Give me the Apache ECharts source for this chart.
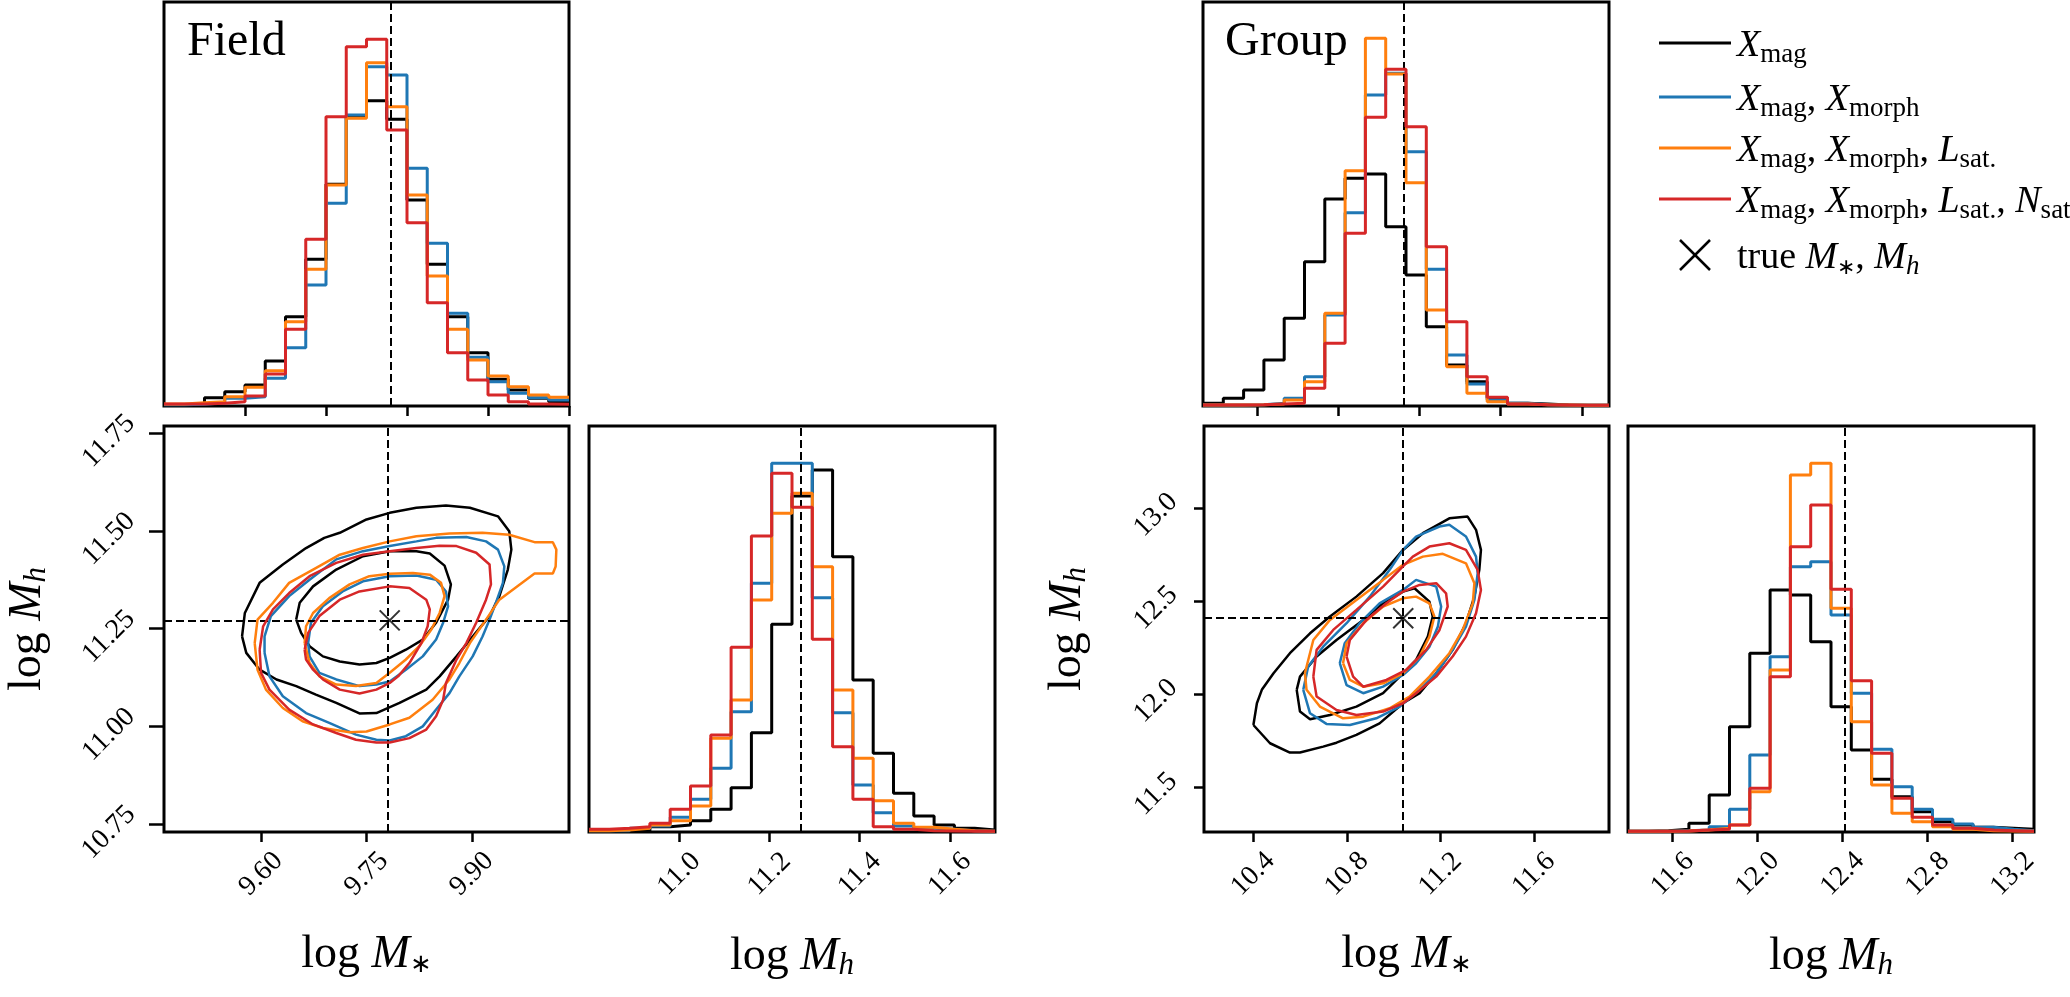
<!DOCTYPE html>
<html><head><meta charset="utf-8">
<script src="https://cdn.jsdelivr.net/npm/echarts@6/dist/echarts.min.js"></script>
<style>html,body{margin:0;padding:0;background:#fff}#c{width:2070px;height:997px}</style>
</head><body><div id="c"></div>
<script>
const FONT = 'Liberation Serif';
const seriesNames = ['X_mag', 'X_mag, X_morph', 'X_mag, X_morph, L_sat.', 'X_mag, X_morph, L_sat., N_sat'];
const seriesColors = ['#000000', '#1f77b4', '#ff7f0e', '#d62728'];

// ---------- Field ----------
const fieldTruth = [9.783, 11.271];
const fieldMstarBinStart = 9.5, fieldMstarBinWidth = 0.025;
const fieldMstarBlack  = [4, 6, 25, 43, 63, 135, 268, 440, 665, 868, 916, 860, 618, 425, 268, 160, 80, 48, 23, 13];
const fieldMstarBlue   = [4, 5, 10, 23, 28, 83, 175, 363, 608, 873, 1018, 993, 713, 488, 278, 146, 73, 38, 25, 18];
const fieldMstarOrange = [6, 10, 13, 28, 56, 106, 253, 410, 663, 863, 1030, 898, 633, 390, 230, 138, 90, 58, 33, 26];
const fieldMstarRed    = [6, 6, 8, 13, 30, 96, 230, 500, 868, 1078, 1100, 828, 550, 310, 160, 78, 33, 13, 6, 5];

const fieldMhBinStart = 10.8, fieldMhBinWidth = 0.045;
const fieldMhBlack  = [2, 2, 4, 16, 21, 34, 68, 133, 298, 623, 1008, 1086, 826, 456, 236, 116, 48, 21, 11, 6];
const fieldMhBlue   = [4, 4, 11, 18, 44, 98, 191, 361, 746, 1106, 1106, 703, 358, 141, 58, 18, 11, 8, 4, 2];
const fieldMhOrange = [4, 6, 11, 21, 34, 78, 281, 396, 696, 956, 1016, 796, 426, 221, 94, 26, 14, 8, 4, 2];
const fieldMhRed    = [8, 11, 16, 26, 68, 138, 291, 554, 888, 1076, 974, 578, 256, 98, 16, 8, 4, 3, 2, 2];

const fieldBlackOuter = [[9.573,11.230],[9.577,11.290],[9.598,11.367],[9.631,11.414],[9.664,11.456],[9.690,11.482],[9.712,11.495],[9.750,11.529],[9.783,11.546],[9.821,11.559],[9.863,11.565],[9.897,11.559],[9.937,11.537],[9.953,11.499],[9.956,11.452],[9.951,11.401],[9.939,11.333],[9.925,11.282],[9.901,11.230],[9.878,11.179],[9.854,11.128],[9.835,11.094],[9.797,11.060],[9.764,11.034],[9.740,11.033],[9.707,11.060],[9.678,11.081],[9.650,11.103],[9.622,11.120],[9.598,11.145],[9.579,11.188],[9.573,11.230]];
const fieldBlackInner = [[9.650,11.273],[9.655,11.316],[9.674,11.358],[9.707,11.401],[9.745,11.435],[9.783,11.448],[9.821,11.448],[9.840,11.442],[9.861,11.411],[9.870,11.363],[9.866,11.324],[9.849,11.265],[9.830,11.222],[9.806,11.196],[9.783,11.175],[9.764,11.162],[9.740,11.158],[9.712,11.166],[9.688,11.179],[9.669,11.205],[9.657,11.239],[9.650,11.273]];
const fieldBlueOuter = [[9.605,11.188],[9.605,11.230],[9.614,11.282],[9.640,11.333],[9.669,11.375],[9.707,11.427],[9.745,11.448],[9.783,11.461],[9.821,11.473],[9.849,11.482],[9.892,11.484],[9.920,11.473],[9.937,11.452],[9.946,11.409],[9.944,11.367],[9.934,11.316],[9.925,11.273],[9.915,11.230],[9.901,11.179],[9.882,11.128],[9.868,11.085],[9.849,11.043],[9.830,11.000],[9.806,10.975],[9.783,10.964],[9.764,10.966],[9.735,10.979],[9.697,11.009],[9.664,11.034],[9.631,11.077],[9.612,11.128],[9.605,11.188]];
const fieldBlueInner = [[9.667,11.213],[9.671,11.265],[9.688,11.307],[9.716,11.345],[9.745,11.371],[9.783,11.384],[9.821,11.386],[9.849,11.375],[9.863,11.345],[9.866,11.307],[9.859,11.265],[9.849,11.222],[9.830,11.179],[9.806,11.145],[9.783,11.115],[9.764,11.107],[9.740,11.103],[9.707,11.120],[9.683,11.137],[9.669,11.179],[9.667,11.213]];
const fieldOrangeOuter = [[9.591,11.213],[9.595,11.273],[9.617,11.316],[9.640,11.367],[9.674,11.401],[9.712,11.439],[9.745,11.456],[9.783,11.473],[9.821,11.486],[9.868,11.493],[9.915,11.495],[9.953,11.490],[9.989,11.471],[10.015,11.471],[10.020,11.452],[10.019,11.409],[10.015,11.391],[9.989,11.391],[9.968,11.363],[9.939,11.324],[9.920,11.273],[9.897,11.213],[9.882,11.162],[9.868,11.120],[9.844,11.068],[9.811,11.022],[9.783,11.005],[9.750,10.987],[9.726,10.985],[9.688,10.996],[9.659,11.013],[9.631,11.047],[9.607,11.094],[9.595,11.145],[9.591,11.213]];
const fieldOrangeInner = [[9.662,11.213],[9.664,11.256],[9.674,11.290],[9.697,11.328],[9.726,11.363],[9.754,11.384],[9.783,11.390],[9.816,11.392],[9.840,11.388],[9.856,11.367],[9.861,11.333],[9.854,11.290],[9.842,11.247],[9.825,11.205],[9.806,11.171],[9.783,11.137],[9.764,11.111],[9.735,11.103],[9.707,11.107],[9.683,11.128],[9.669,11.162],[9.662,11.213]];
const fieldRedOuter = [[9.598,11.196],[9.603,11.256],[9.617,11.299],[9.640,11.341],[9.669,11.384],[9.707,11.418],[9.745,11.439],[9.783,11.448],[9.821,11.456],[9.854,11.462],[9.878,11.461],[9.906,11.444],[9.925,11.414],[9.927,11.363],[9.920,11.324],[9.906,11.265],[9.892,11.213],[9.878,11.171],[9.863,11.111],[9.859,11.068],[9.849,11.026],[9.835,10.992],[9.811,10.970],[9.783,10.959],[9.764,10.959],[9.735,10.966],[9.707,10.983],[9.674,11.005],[9.640,11.043],[9.612,11.094],[9.600,11.137],[9.598,11.196]];
const fieldRedInner = [[9.662,11.196],[9.667,11.239],[9.683,11.282],[9.712,11.324],[9.740,11.345],[9.783,11.358],[9.811,11.354],[9.835,11.324],[9.840,11.299],[9.837,11.256],[9.828,11.213],[9.811,11.162],[9.795,11.128],[9.783,11.111],[9.764,11.094],[9.740,11.084],[9.712,11.094],[9.688,11.120],[9.674,11.145],[9.664,11.171],[9.662,11.196]];

// ---------- Group ----------
const groupTruth = [11.041, 12.407];
const groupMstarBinStart = 10.3, groupMstarBinWidth = 0.075;
const groupMstarBlack  = [8, 23, 48, 138, 263, 433, 621, 683, 696, 538, 393, 238, 123, 73, 23, 8, 6, 3, 2, 2];
const groupMstarBlue   = [3, 3, 4, 8, 23, 88, 273, 580, 933, 998, 763, 410, 153, 66, 18, 8, 4, 3, 2, 2];
const groupMstarOrange = [3, 3, 4, 6, 18, 73, 278, 706, 1103, 996, 670, 288, 118, 38, 13, 6, 4, 3, 2, 2];
const groupMstarRed    = [3, 3, 4, 6, 8, 53, 188, 518, 866, 1010, 838, 478, 253, 88, 26, 6, 4, 3, 2, 2];

const groupMhBinStart = 11.39, groupMhBinWidth = 0.0955;
const groupMhBlack  = [2, 4, 8, 26, 111, 316, 536, 726, 711, 571, 376, 246, 158, 106, 61, 31, 21, 14, 11, 8];
const groupMhBlue   = [2, 2, 4, 6, 16, 68, 231, 526, 796, 811, 651, 416, 248, 136, 68, 38, 24, 14, 8, 4];
const groupMhOrange = [2, 2, 3, 6, 11, 21, 121, 486, 1071, 1106, 671, 331, 141, 56, 31, 16, 8, 4, 3, 2];
const groupMhRed    = [2, 2, 3, 6, 8, 21, 131, 466, 856, 981, 728, 454, 236, 101, 44, 21, 11, 6, 4, 2];

const groupBlackOuter = [[10.401,11.833],[10.416,11.950],[10.437,12.022],[10.487,12.111],[10.557,12.219],[10.643,12.326],[10.728,12.416],[10.841,12.523],[10.955,12.649],[11.040,12.774],[11.125,12.864],[11.238,12.944],[11.316,12.953],[11.352,12.882],[11.373,12.774],[11.366,12.667],[11.345,12.523],[11.309,12.380],[11.252,12.237],[11.182,12.111],[11.111,12.004],[11.040,11.950],[10.940,11.842],[10.841,11.780],[10.756,11.738],[10.699,11.717],[10.600,11.685],[10.557,11.685],[10.472,11.735],[10.401,11.833]];
const groupBlackInner = [[10.586,12.022],[10.600,12.093],[10.671,12.201],[10.756,12.290],[10.870,12.398],[10.955,12.487],[11.040,12.550],[11.089,12.568],[11.153,12.496],[11.167,12.416],[11.146,12.308],[11.096,12.183],[11.040,12.111],[10.955,12.004],[10.841,11.932],[10.728,11.887],[10.643,11.864],[10.600,11.905],[10.586,12.022]];
const groupBlueOuter = [[10.614,12.022],[10.635,12.147],[10.699,12.254],[10.799,12.380],[10.898,12.523],[10.983,12.667],[11.040,12.774],[11.096,12.846],[11.196,12.900],[11.238,12.909],[11.309,12.846],[11.352,12.738],[11.359,12.649],[11.345,12.505],[11.309,12.362],[11.252,12.237],[11.182,12.111],[11.111,12.022],[11.026,11.932],[10.926,11.869],[10.813,11.833],[10.713,11.839],[10.643,11.896],[10.614,12.022]];
const groupBlueInner = [[10.770,12.165],[10.791,12.272],[10.855,12.380],[10.940,12.487],[11.040,12.559],[11.096,12.613],[11.182,12.577],[11.203,12.470],[11.189,12.362],[11.153,12.254],[11.096,12.165],[11.040,12.102],[10.955,12.039],[10.870,12.004],[10.799,12.048],[10.770,12.165]];
const groupOrangeOuter = [[10.621,12.111],[10.657,12.290],[10.728,12.398],[10.841,12.505],[10.955,12.613],[11.040,12.694],[11.125,12.738],[11.210,12.753],[11.309,12.702],[11.345,12.595],[11.338,12.487],[11.295,12.344],[11.238,12.219],[11.153,12.093],[11.068,11.986],[10.983,11.923],[10.870,11.878],[10.784,11.869],[10.685,11.932],[10.628,12.022],[10.621,12.111]];
const groupOrangeInner = [[10.784,12.165],[10.799,12.272],[10.870,12.380],[10.955,12.470],[11.040,12.514],[11.096,12.523],[11.153,12.487],[11.174,12.416],[11.153,12.308],[11.111,12.201],[11.040,12.111],[10.955,12.057],[10.870,12.039],[10.813,12.075],[10.784,12.165]];
const groupRedOuter = [[10.657,12.093],[10.671,12.237],[10.742,12.344],[10.841,12.452],[10.955,12.577],[11.040,12.685],[11.082,12.738],[11.153,12.792],[11.238,12.810],[11.309,12.774],[11.359,12.667],[11.373,12.559],[11.352,12.434],[11.309,12.308],[11.252,12.201],[11.182,12.093],[11.096,12.004],[11.040,11.950],[10.955,11.905],[10.841,11.887],[10.756,11.914],[10.671,11.986],[10.657,12.093]];
const groupRedInner = [[10.799,12.201],[10.813,12.290],[10.884,12.398],[10.969,12.487],[11.040,12.550],[11.111,12.586],[11.182,12.595],[11.224,12.541],[11.231,12.470],[11.196,12.344],[11.139,12.237],[11.054,12.129],[10.969,12.075],[10.870,12.039],[10.827,12.093],[10.799,12.201]];

// ---------- tick labels ----------
const fieldTopTicks = [9.6, 9.7, 9.8, 9.9, 10.0];
const fieldMstarTicks = [9.60, 9.75, 9.90];
const fieldMhContourTicks = [10.75, 11.00, 11.25, 11.50, 11.75];
const fieldMhHistTicks = [11.0, 11.2, 11.4, 11.6];
const groupTopTicks = [10.5, 10.8, 11.1, 11.4, 11.7];
const groupMstarTicks = [10.4, 10.8, 11.2, 11.6];
const groupMhContourTicks = [11.5, 12.0, 12.5, 13.0];
const groupMhHistTicks = [11.6, 12.0, 12.4, 12.8, 13.2];

// ---------- build ----------
const rich = {
  r: {fontFamily: FONT, fontSize: 46, color: '#000'},
  i: {fontFamily: FONT, fontSize: 46, fontStyle: 'italic', color: '#000'},
  s: {fontFamily: FONT, fontSize: 31, fontStyle: 'italic', color: '#000', padding: [18, 0, 0, 0]},
  st: {fontFamily: FONT, fontSize: 26, color: '#000', padding: [20, 0, 0, 0]}
};
const nameMstar = '{r|log }{i|M}{st|∗}';
const nameMh = '{r|log }{i|M}{s|h}';

function stepPoints(start, width, vals) {
  const pts = vals.map((v, i) => [start + i * width, v]);
  pts.push([start + vals.length * width, vals[vals.length - 1]]);
  return pts;
}

const grids = [
  {left: 164, top: 2, width: 405, height: 404},
  {left: 164, top: 426, width: 405, height: 406},
  {left: 589, top: 426, width: 406, height: 406},
  {left: 1203, top: 2, width: 406, height: 404},
  {left: 1204, top: 426, width: 405, height: 406},
  {left: 1628, top: 426, width: 406, height: 406}
].map(g => Object.assign({show: true, borderColor: '#000', borderWidth: 3, backgroundColor: 'transparent'}, g));

const tickStyle = {show: true, length: 10, lineStyle: {color: '#000', width: 2.5}};
function xAxisDef(gi, min, max, ticks, labelDigits, name) {
  const ax = {
    type: 'value', gridIndex: gi, min, max, splitLine: {show: false},
    axisLine: {show: false},
    axisTick: Object.assign({customValues: ticks}, tickStyle),
    axisLabel: {show: false}
  };
  if (labelDigits !== null) {
    ax.axisLabel = {show: true, customValues: ticks, rotate: 45, align: 'center', verticalAlign: 'middle',
      margin: 42, fontFamily: FONT, fontSize: 28, color: '#000',
      formatter: v => v.toFixed(labelDigits)};
  }
  if (name) {
    ax.name = name; ax.nameLocation = 'middle'; ax.nameGap = 100;
    ax.nameTextStyle = {rich};
  }
  return ax;
}
function yAxisHist(gi, max) {
  return {type: 'value', gridIndex: gi, min: 0, max, splitLine: {show: false}, axisLine: {show: false},
    axisTick: {show: false}, axisLabel: {show: false}};
}
function yAxisContour(gi, min, max, ticks, digits, margin, pad, tickLen) {
  return {type: 'value', gridIndex: gi, min, max, splitLine: {show: false}, axisLine: {show: false},
    axisTick: Object.assign({customValues: ticks}, tickStyle, {length: tickLen}),
    axisLabel: {show: true, customValues: ticks, rotate: 45, align: 'center', verticalAlign: 'middle',
      margin, padding: [pad, pad, 0, 0], fontFamily: FONT, fontSize: 28, color: '#000',
      formatter: v => v.toFixed(digits)},
    name: nameMh, nameLocation: 'middle', nameGap: 112, nameTextStyle: {rich}};
}

const xAxes = [
  xAxisDef(0, 9.5, 10.0, fieldTopTicks, null, null),
  xAxisDef(1, 9.462, 10.038, fieldMstarTicks, 2, nameMstar),
  xAxisDef(2, 10.8, 11.7, fieldMhHistTicks, 1, nameMh),
  xAxisDef(3, 10.3, 11.8, groupTopTicks, null, null),
  xAxisDef(4, 10.19, 11.92, groupMstarTicks, 1, nameMstar),
  xAxisDef(5, 11.39, 13.30, groupMhHistTicks, 1, nameMh)
];
const yAxes = [
  yAxisHist(0, 1212),
  yAxisContour(1, 10.73, 11.768, fieldMhContourTicks, 2, 47, 23, 15),
  yAxisHist(2, 1218),
  yAxisHist(3, 1212),
  yAxisContour(4, 11.258, 13.44, groupMhContourTicks, 1, 41, 20, 10),
  yAxisHist(5, 1218)
];

const dashStyle = {color: '#000', width: 2, type: [8, 4]};
function markLineDef(items) {
  return {silent: true, symbol: 'none', label: {show: false}, lineStyle: dashStyle, animation: false, data: items};
}

const series = [];
function addHist(gi, start, width, arrays, truthX) {
  arrays.forEach((vals, k) => {
    const s = {type: 'line', name: seriesNames[k], xAxisIndex: gi, yAxisIndex: gi, step: 'end',
      symbol: 'none', showSymbol: false, lineStyle: {width: 3, color: seriesColors[k]},
      itemStyle: {color: seriesColors[k]}, data: stepPoints(start, width, vals), z: 2 + k};
    if (k === arrays.length - 1) s.markLine = markLineDef([{xAxis: truthX}]);
    series.push(s);
  });
}
function addContours(gi, pairs, truth) {
  pairs.forEach((pair, k) => {
    pair.forEach(curve => {
      series.push({type: 'line', name: seriesNames[k], xAxisIndex: gi, yAxisIndex: gi, symbol: 'none',
        showSymbol: false, lineStyle: {width: 2.5, color: seriesColors[k]}, data: curve, z: 2 + k});
    });
  });
  series.push({type: 'scatter', xAxisIndex: gi, yAxisIndex: gi, symbol: 'path://M0,0L10,10M10,0L0,10',
    symbolSize: 20, itemStyle: {color: 'none', borderColor: '#000', borderWidth: 2}, data: [truth], z: 10,
    markLine: markLineDef([{xAxis: truth[0]}, {yAxis: truth[1]}])});
}

addHist(0, fieldMstarBinStart, fieldMstarBinWidth, [fieldMstarBlack, fieldMstarBlue, fieldMstarOrange, fieldMstarRed], fieldTruth[0]);
addContours(1, [[fieldBlackOuter, fieldBlackInner], [fieldBlueOuter, fieldBlueInner], [fieldOrangeOuter, fieldOrangeInner], [fieldRedOuter, fieldRedInner]], fieldTruth);
addHist(2, fieldMhBinStart, fieldMhBinWidth, [fieldMhBlack, fieldMhBlue, fieldMhOrange, fieldMhRed], fieldTruth[1]);
addHist(3, groupMstarBinStart, groupMstarBinWidth, [groupMstarBlack, groupMstarBlue, groupMstarOrange, groupMstarRed], groupTruth[0]);
addContours(4, [[groupBlackOuter, groupBlackInner], [groupBlueOuter, groupBlueInner], [groupOrangeOuter, groupOrangeInner], [groupRedOuter, groupRedInner]], groupTruth);
addHist(5, groupMhBinStart, groupMhBinWidth, [groupMhBlack, groupMhBlue, groupMhOrange, groupMhRed], groupTruth[1]);

// ---------- legend & panel titles (graphic) ----------
const legRich = {
  r: {fontFamily: FONT, fontSize: 38, color: '#000'},
  i: {fontFamily: FONT, fontSize: 38, fontStyle: 'italic', color: '#000'},
  s: {fontFamily: FONT, fontSize: 27, color: '#000', padding: [18, 0, 0, 0]},
  st: {fontFamily: FONT, fontSize: 22, color: '#000', padding: [20, 0, 0, 0]},
  si: {fontFamily: FONT, fontSize: 27, fontStyle: 'italic', color: '#000', padding: [18, 0, 0, 0]}
};
const legendTexts = [
  '{i|X}{s|mag}',
  '{i|X}{s|mag}{r|, }{i|X}{s|morph}',
  '{i|X}{s|mag}{r|, }{i|X}{s|morph}{r|, }{i|L}{s|sat.}',
  '{i|X}{s|mag}{r|, }{i|X}{s|morph}{r|, }{i|L}{s|sat.}{r|, }{i|N}{s|sat}'
];
const legendTruthText = '{r|true }{i|M}{st|∗}{r|, }{i|M}{si|h}';
const legendRowsY = [43, 97, 148, 199, 255];

const graphic = [
  {type: 'text', left: 187, top: 18, style: {text: 'Field', fontFamily: FONT, fontSize: 48, fill: '#000'}},
  {type: 'text', left: 1225, top: 18, style: {text: 'Group', fontFamily: FONT, fontSize: 48, fill: '#000'}}
];
legendTexts.forEach((t, k) => {
  graphic.push({type: 'line', shape: {x1: 1659, y1: legendRowsY[k], x2: 1731, y2: legendRowsY[k]},
    style: {stroke: seriesColors[k], lineWidth: 3}});
  graphic.push({type: 'text', x: 1737, y: legendRowsY[k] + 3,
    style: {text: t, rich: legRich, align: 'left', verticalAlign: 'middle', fill: '#000'}});
});
graphic.push({type: 'line', shape: {x1: 1680, y1: 240, x2: 1710, y2: 270}, style: {stroke: '#000', lineWidth: 2.5}});
graphic.push({type: 'line', shape: {x1: 1710, y1: 240, x2: 1680, y2: 270}, style: {stroke: '#000', lineWidth: 2.5}});
graphic.push({type: 'text', x: 1737, y: legendRowsY[4] + 3,
  style: {text: legendTruthText, rich: legRich, align: 'left', verticalAlign: 'middle', fill: '#000'}});

const chart = echarts.init(document.getElementById('c'), null, {renderer: 'canvas'});
chart.setOption({
  animation: false,
  backgroundColor: '#fff',
  textStyle: {fontFamily: FONT},
  grid: grids,
  xAxis: xAxes,
  yAxis: yAxes,
  series,
  graphic
});
</script></body></html>
